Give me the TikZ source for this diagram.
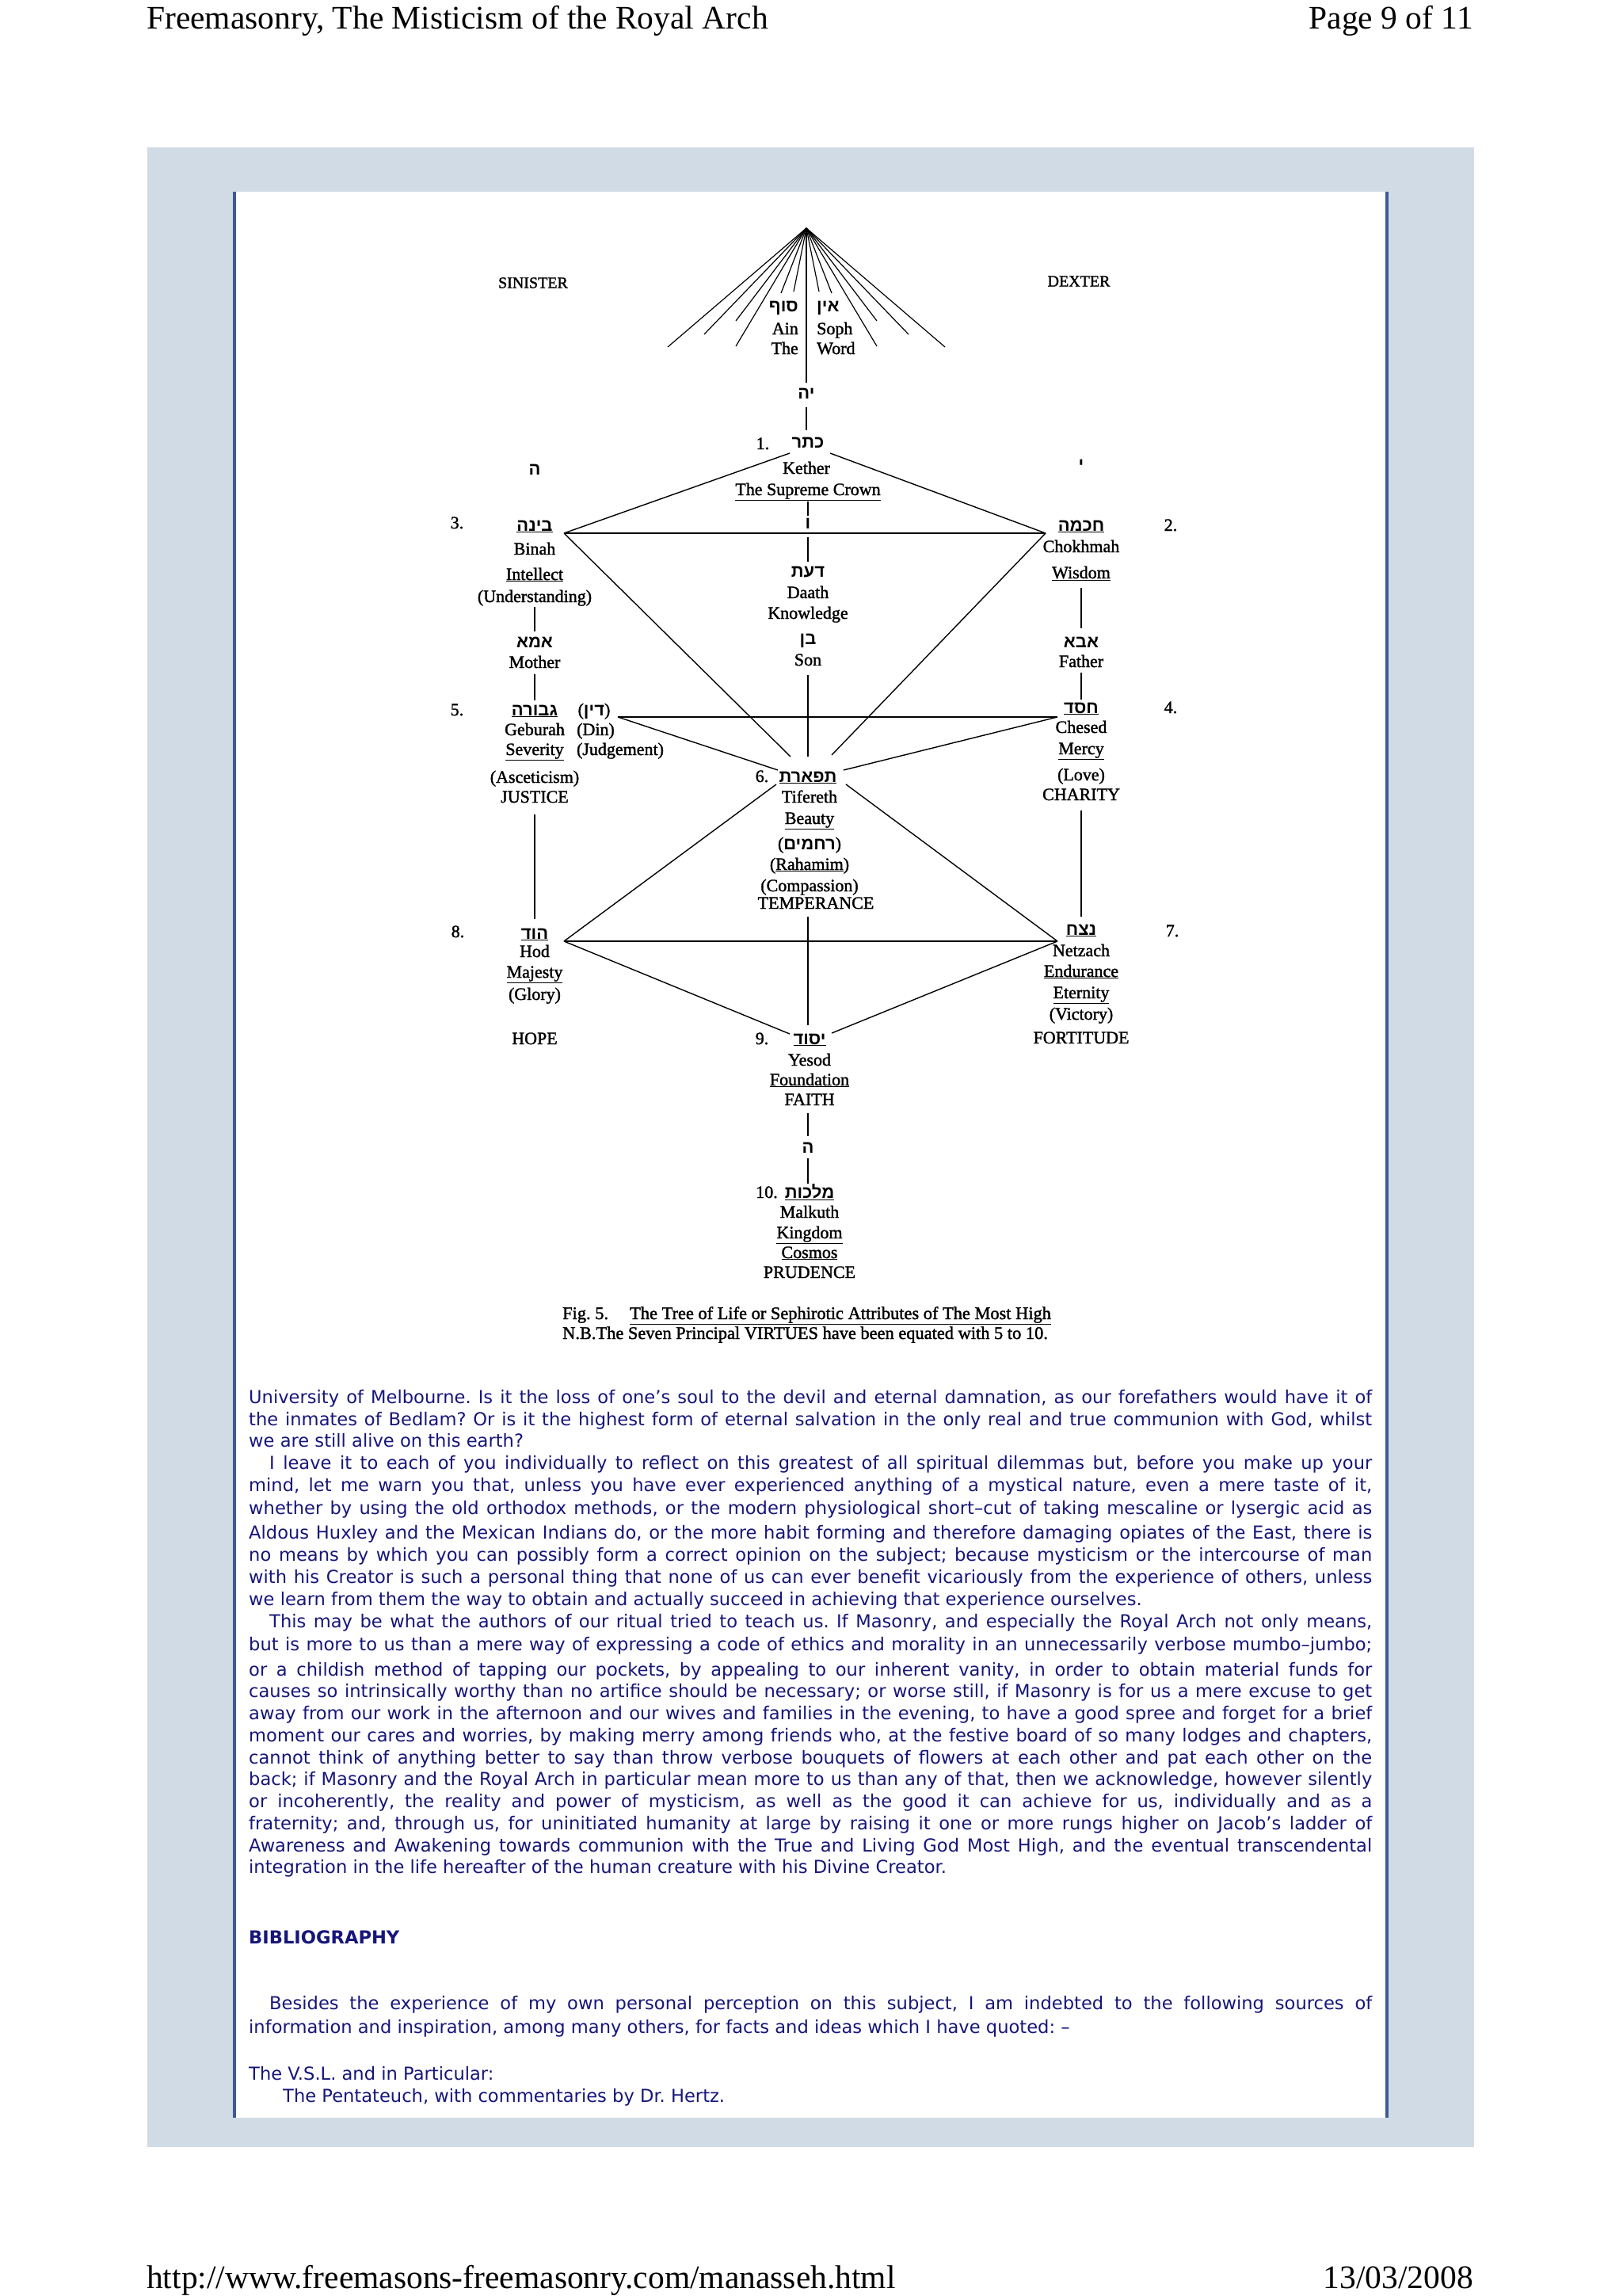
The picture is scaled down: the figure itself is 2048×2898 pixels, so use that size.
\documentclass[tikz,border=0pt]{standalone}
\usepackage{fontspec}
\setmainfont{Liberation Serif}
\newfontfamily\scanfont[FakeBold=1.5]{Liberation Serif}
\newfontfamily\bodyfont{DejaVu Sans}
\newfontfamily\hebfont[Script=Hebrew]{Liberation Sans}
\TeXXeTstate=1
\frenchspacing
\definecolor{navy}{RGB}{22,22,122}
\definecolor{pagebg}{RGB}{208,219,230}
\definecolor{barblue}{RGB}{62,90,150}
\newcommand{\heb}[1]{{\hebfont\bfseries\beginR#1\endR}}
\newcommand{\myul}[1]{\underline{#1}}
\newcommand{\jl}[1]{\makebox[1418pt][s]{#1}}
\begin{document}
\begin{tikzpicture}[x=1pt,y=-1pt,
  lbl/.style={inner sep=0pt, font=\scanfont\fontsize{22}{24}\selectfont, text height=15pt, text depth=5pt},
  capt/.style={inner sep=0pt, anchor=base west, font=\scanfont\fontsize{22.4}{24}\selectfont},
  sidelbl/.style={inner sep=0pt, font=\scanfont\fontsize{20}{22}\selectfont},
  conn/.style={line width=1.4pt, black},
  bodytxt/.style={inner sep=0pt, anchor=base west, font=\bodyfont\fontsize{22.6}{26}\selectfont\frenchspacing, text=navy},
  hdr/.style={inner sep=0pt, font=\fontsize{41.5}{46}\selectfont}]
\useasboundingbox (0,0) rectangle (2048,2898);
\fill[white] (0,0) rectangle (2048,2898);
% page frame
\fill[pagebg] (186,186) rectangle (1861,2710);
\fill[white] (298,242) rectangle (1749,2673);
\fill[barblue] (294,242) rectangle (298,2673);
\fill[barblue] (1749,242) rectangle (1753,2673);
% header / footer
\node[hdr, anchor=base west] (title) at (185,37) {Freemasonry, The Misticism of the Royal Arch};
\node[hdr, anchor=base east] (pageno) at (1860,37) {Page 9 of 11};
\node[hdr, anchor=base west] (url) at (185,2888) {http://www.freemasons-freemasonry.com/manasseh.html};
\node[hdr, anchor=base east] (date) at (1860,2888) {13/03/2008};

% ===== Tree of life =====
\coordinate (apex) at (1018,288);
\foreach \dx/\dy [count=\i] in {-175/150,-129/134,-89/117,-89/149,-32/82,-16/80,175/150,129/134,89/117,89/149,32/82,16/80}{
  \path (apex) ++(\dx,\dy) coordinate (ray\i);
  \draw[conn, line width=1.2pt] (apex) -- (ray\i);
}
\node[sidelbl] (sinister) at (673,357) {SINISTER};
\node[sidelbl] (dexter) at (1362,355) {DEXTER};
\node[lbl, anchor=east] (sofH) at (1008,388) {\heb{סוף}};
\node[lbl, anchor=east] (ain) at (1008,417) {Ain};
\node[lbl, anchor=east] (the) at (1008,442) {The};
\node[lbl, anchor=west] (ainH) at (1031,388) {\heb{אין}};
\node[lbl, anchor=west] (soph) at (1031,417) {Soph};
\node[lbl, anchor=west] (word) at (1031,442) {Word};
\node[lbl] (yah) at (1018,498) {\heb{יה}};
\coordinate (yahT) at (1018,483);
\draw[conn] (apex) -- (yahT);
\coordinate (yahB) at (1018,514);
\coordinate (ketT) at (1018,543);
\draw[conn] (yahB) -- (ketT);
% Kether
\node[lbl] (n1) at (963,562) {1.};
\node[lbl] (ketH) at (1020,560) {\heb{כתר}};
\node[lbl] (kether) at (1018,593) {Kether};
\node[lbl] (crown) at (1020,620) {\myul{The Supreme Crown}};
\node[lbl] (heL) at (675,594) {\heb{ה}};
\node[lbl] (yodR) at (1365,588) {\heb{י}};
\coordinate (kL) at (997,572);
\coordinate (kR) at (1048,572);
\coordinate (binahV) at (712,673);
\coordinate (chokV) at (1320,673);
\draw[conn] (kL) -- (binahV);
\draw[conn] (kR) -- (chokV);
\draw[conn] (binahV) -- (chokV);
% middle column
\node[lbl] (vav) at (1020,662) {\heb{ו}};
\coordinate (m1) at (1020,633); \coordinate (m2) at (1020,651);
\coordinate (m3) at (1020,678); \coordinate (m4) at (1020,709);
\draw[conn] (m1) -- (m2);
\draw[conn] (m3) -- (m4);
\node[lbl] (daathH) at (1020,723) {\heb{דעת}};
\node[lbl] (daath) at (1020,750) {Daath};
\node[lbl] (knowledge) at (1020,776) {Knowledge};
\node[lbl] (benH) at (1020,808) {\heb{בן}};
\node[lbl] (son) at (1020,835) {Son};
\coordinate (sonB) at (1020,852);
\coordinate (tifT) at (1020,955);
\draw[conn] (sonB) -- (tifT);
% Binah column
\node[lbl] (n3) at (577,662) {3.};
\node[lbl] (binahH) at (675,665) {\myul{\heb{בינה}}};
\node[lbl] (binah) at (675,695) {Binah};
\node[lbl] (intellect) at (675,727) {\myul{Intellect}};
\node[lbl] (underst) at (675,755) {(Understanding)};
\coordinate (b1) at (675,766); \coordinate (b2) at (675,797);
\draw[conn] (b1) -- (b2);
\node[lbl] (amaH) at (675,812) {\heb{אמא}};
\node[lbl] (mother) at (675,838) {Mother};
\coordinate (b3) at (675,851); \coordinate (b4) at (675,884);
\draw[conn] (b3) -- (b4);
\node[lbl] (n5) at (577,898) {5.};
\node[lbl] (gebH) at (675,898) {\myul{\heb{גבורה}}};
\node[lbl] (dinH) at (750,898) {(\heb{דין})};
\node[lbl] (geburah) at (675,923) {Geburah};
\node[lbl] (din) at (752,923) {(Din)};
\node[lbl] (severity) at (675,948) {\myul{Severity}};
\node[lbl] (judgement) at (783,948) {(Judgement)};
\node[lbl] (ascet) at (675,983) {(Asceticism)};
\node[lbl] (justice) at (675,1008) {JUSTICE};
\coordinate (b5) at (675,1028); \coordinate (b6) at (675,1160);
\draw[conn] (b5) -- (b6);
% Chokhmah column
\node[lbl] (n2) at (1478,665) {2.};
\node[lbl] (chokH) at (1365,665) {\myul{\heb{חכמה}}};
\node[lbl] (chokhmah) at (1365,692) {Chokhmah};
\node[lbl] (wisdom) at (1365,725) {\myul{Wisdom}};
\coordinate (c1) at (1365,742); \coordinate (c2) at (1365,793);
\draw[conn] (c1) -- (c2);
\node[lbl] (abaH) at (1365,812) {\heb{אבא}};
\node[lbl] (father) at (1365,837) {Father};
\coordinate (c3) at (1365,849); \coordinate (c4) at (1365,883);
\draw[conn] (c3) -- (c4);
\node[lbl] (n4) at (1478,895) {4.};
\node[lbl] (chesH) at (1365,895) {\myul{\heb{חסד}}};
\node[lbl] (chesed) at (1365,920) {Chesed};
\node[lbl] (mercy) at (1365,947) {\myul{Mercy}};
\node[lbl] (love) at (1365,980) {(Love)};
\node[lbl] (charity) at (1365,1005) {CHARITY};
\coordinate (c5) at (1365,1023); \coordinate (c6) at (1365,1157);
\draw[conn] (c5) -- (c6);
% Geburah / Chesed links
\coordinate (gebV) at (780,905);
\coordinate (chesV) at (1335,905);
\coordinate (tifL) at (982,972);
\coordinate (tifR) at (1065,972);
\coordinate (tifTL) at (998,955);
\coordinate (tifTR) at (1050,953);
\draw[conn] (gebV) -- (chesV);
\draw[conn] (gebV) -- (tifL);
\draw[conn] (chesV) -- (tifR);
\draw[conn] (binahV) -- (tifTL);
\draw[conn] (chokV) -- (tifTR);
% Tifereth
\node[lbl] (n6) at (962,982) {6.};
\node[lbl] (tifH) at (1020,982) {\myul{\heb{תפארת}}};
\node[lbl] (tifereth) at (1022,1008) {Tifereth};
\node[lbl] (beauty) at (1022,1035) {\myul{Beauty}};
\node[lbl] (rahH) at (1022,1067) {(\heb{רחמים})};
\node[lbl] (rahamim) at (1022,1093) {(\myul{Rahamim})};
\node[lbl] (compassion) at (1022,1120) {(Compassion)};
\node[lbl] (temperance) at (1030,1142) {TEMPERANCE};
% Hod
\node[lbl] (n8) at (578,1178) {8.};
\node[lbl] (hodH) at (675,1180) {\myul{\heb{הוד}}};
\node[lbl] (hod) at (675,1203) {Hod};
\node[lbl] (majesty) at (675,1229) {\myul{Majesty}};
\node[lbl] (glory) at (675,1257) {(Glory)};
\node[lbl] (hope) at (675,1313) {HOPE};
% Netzach
\node[lbl] (n7) at (1480,1177) {7.};
\node[lbl] (netH) at (1365,1175) {\myul{\heb{נצח}}};
\node[lbl] (netzach) at (1365,1202) {Netzach};
\node[lbl] (endurance) at (1365,1228) {\myul{Endurance}};
\node[lbl] (eternity) at (1365,1255) {\myul{Eternity}};
\node[lbl] (victory) at (1365,1282) {(Victory)};
\node[lbl] (fortitude) at (1365,1312) {FORTITUDE};
% lower links
\coordinate (tifBL) at (980,990);
\coordinate (tifBR) at (1068,990);
\coordinate (hodV) at (712,1188);
\coordinate (netV) at (1335,1188);
\coordinate (yesL) at (997,1305);
\coordinate (yesR) at (1050,1304);
\coordinate (tifB) at (1020,1157);
\coordinate (yesT) at (1020,1294);
\draw[conn] (tifBL) -- (hodV);
\draw[conn] (tifBR) -- (netV);
\draw[conn] (hodV) -- (netV);
\draw[conn] (hodV) -- (yesL);
\draw[conn] (netV) -- (yesR);
\draw[conn] (tifB) -- (yesT);
% Yesod
\node[lbl] (n9) at (962,1313) {9.};
\node[lbl] (yesH) at (1022,1313) {\myul{\heb{יסוד}}};
\node[lbl] (yesod) at (1022,1340) {Yesod};
\node[lbl] (foundation) at (1022,1365) {\myul{Foundation}};
\node[lbl] (faith) at (1022,1390) {FAITH};
\coordinate (y1) at (1020,1405); \coordinate (y2) at (1020,1434);
\draw[conn] (y1) -- (y2);
\node[lbl] (heB) at (1020,1450) {\heb{ה}};
\coordinate (y3) at (1020,1462); \coordinate (y4) at (1020,1494);
\draw[conn] (y3) -- (y4);
% Malkuth
\node[lbl] (n10) at (968,1507) {10.};
\node[lbl] (malH) at (1022,1507) {\myul{\heb{מלכות}}};
\node[lbl] (malkuth) at (1022,1532) {Malkuth};
\node[lbl] (kingdom) at (1022,1558) {\myul{Kingdom}};
\node[lbl] (cosmos) at (1022,1583) {\myul{Cosmos}};
\node[lbl] (prudence) at (1022,1608) {PRUDENCE};
% caption
\node[capt] (fig) at (710,1665) {Fig. 5.};
\node[capt] (figt) at (795,1665) {\myul{The Tree of Life or Sephirotic Attributes of The Most High}};
\node[capt] (nb) at (710,1690) {N.B.The Seven Principal VIRTUES have been equated with 5 to 10.};

% ===== body text =====
\node[bodytxt] (l1) at (314,1771) {\jl{University of Melbourne. Is it the loss of one’s soul to the devil and eternal damnation, as our forefathers would have it of}};
\node[bodytxt] (l2) at (314,1799) {\jl{the inmates of Bedlam? Or is it the highest form of eternal salvation in the only real and true communion with God, whilst}};
\node[bodytxt] (l3) at (314,1826) {we are still alive on this earth?};
\node[bodytxt] (l4) at (314,1854) {\jl{\hspace*{26pt}I leave it to each of you individually to reflect on this greatest of all spiritual dilemmas but, before you make up your}};
\node[bodytxt] (l5) at (314,1882) {\jl{mind, let me warn you that, unless you have ever experienced anything of a mystical nature, even a mere taste of it,}};
\node[bodytxt] (l6) at (314,1911) {\jl{whether by using the old orthodox methods, or the modern physiological short–cut of taking mescaline or lysergic acid as}};
\node[bodytxt] (l7) at (314,1942) {\jl{Aldous Huxley and the Mexican Indians do, or the more habit forming and therefore damaging opiates of the East, there is}};
\node[bodytxt] (l8) at (314,1970) {\jl{no means by which you can possibly form a correct opinion on the subject; because mysticism or the intercourse of man}};
\node[bodytxt] (l9) at (314,1998) {\jl{with his Creator is such a personal thing that none of us can ever benefit vicariously from the experience of others, unless}};
\node[bodytxt] (l10) at (314,2026) {we learn from them the way to obtain and actually succeed in achieving that experience ourselves.};
\node[bodytxt] (l11) at (314,2054) {\jl{\hspace*{26pt}This may be what the authors of our ritual tried to teach us. If Masonry, and especially the Royal Arch not only means,}};
\node[bodytxt] (l12) at (314,2083) {\jl{but is more to us than a mere way of expressing a code of ethics and morality in an unnecessarily verbose mumbo–jumbo;}};
\node[bodytxt] (l13) at (314,2115) {\jl{or a childish method of tapping our pockets, by appealing to our inherent vanity, in order to obtain material funds for}};
\node[bodytxt] (l14) at (314,2142) {\jl{causes so intrinsically worthy than no artifice should be necessary; or worse still, if Masonry is for us a mere excuse to get}};
\node[bodytxt] (l15) at (314,2170) {\jl{away from our work in the afternoon and our wives and families in the evening, to have a good spree and forget for a brief}};
\node[bodytxt] (l16) at (314,2198) {\jl{moment our cares and worries, by making merry among friends who, at the festive board of so many lodges and chapters,}};
\node[bodytxt] (l17) at (314,2226) {\jl{cannot think of anything better to say than throw verbose bouquets of flowers at each other and pat each other on the}};
\node[bodytxt] (l18) at (314,2253) {\jl{back; if Masonry and the Royal Arch in particular mean more to us than any of that, then we acknowledge, however silently}};
\node[bodytxt] (l19) at (314,2281) {\jl{or incoherently, the reality and power of mysticism, as well as the good it can achieve for us, individually and as a}};
\node[bodytxt] (l20) at (314,2309) {\jl{fraternity; and, through us, for uninitiated humanity at large by raising it one or more rungs higher on Jacob’s ladder of}};
\node[bodytxt] (l21) at (314,2337) {\jl{Awareness and Awakening towards communion with the True and Living God Most High, and the eventual transcendental}};
\node[bodytxt] (l22) at (314,2364) {integration in the life hereafter of the human creature with his Divine Creator.};
\node[bodytxt, font=\bodyfont\bfseries\fontsize{22.6}{26}\selectfont] (bib) at (314,2453) {BIBLIOGRAPHY};
\node[bodytxt] (l23) at (314,2536) {\jl{\hspace*{26pt}Besides the experience of my own personal perception on this subject, I am indebted to the following sources of}};
\node[bodytxt] (l24) at (314,2566) {information and inspiration, among many others, for facts and ideas which I have quoted: –};
\node[bodytxt] (l25) at (314,2625) {The V.S.L. and in Particular:};
\node[bodytxt] (l26) at (357,2653) {The Pentateuch, with commentaries by Dr. Hertz.};
\end{tikzpicture}
\end{document}
